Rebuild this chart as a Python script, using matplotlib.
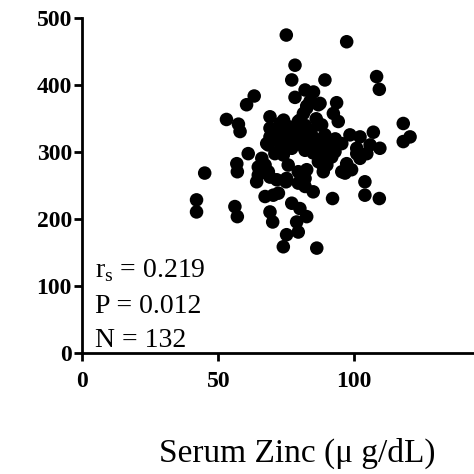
import matplotlib
matplotlib.use('Agg')
import matplotlib.pyplot as plt

# serum zinc (ug/dL) vs. y values
zinc = [42, 42, 45, 53, 57.4, 58, 56.8, 57, 56.1, 57,
        61, 63.2, 60.4, 69, 74, 75, 97.2, 78.2, 77, 89.2,
        108.2, 109.2, 78.2, 81.9, 85, 87.4, 82.5, 81.3, 80, 92.3,
        94.1, 86.8, 107, 64.7, 68.4, 64.1, 67.8, 69, 72.7, 70.8,
        73.9, 75.1, 69, 71.5, 98.4, 102.1, 109.4, 95.4, 92.9, 100.9,
        105.8, 97.2, 95.4, 99, 102.1, 104.6, 103.9, 88, 88.6, 75.1,
        80, 82.5, 118, 120.5, 118, 103.9, 109.2, 93.5, 67.2, 70.2,
        72.1, 69, 70, 74.9, 77, 80, 82.5, 78.8, 79.4, 75.1,
        73.9, 86.2, 92, 81.9, 84.9, 79.4, 69, 79.4, 82.5, 83.7,
        86.8, 68.4, 72.1, 75.7, 79.4, 83.1, 86.8, 89.2, 88, 80.7,
        77, 73.3, 81.9, 84.9, 66, 67.2, 75.7, 79.4, 81.9, 86.8,
        89.9, 91.7, 64.7, 100.9, 77, 83, 85, 78, 81, 84,
        76, 90, 91, 86, 82, 79, 74, 71, 88, 93,
        84, 96.6]
other = [229, 211, 269, 349, 342, 331, 283, 271, 219, 204,
         298, 384, 371, 353, 348, 475, 465, 430, 408, 408,
         413, 394, 382, 393, 390, 373, 369, 358, 348, 358,
         346, 341, 330, 278, 271, 256, 313, 323, 343, 298,
         296, 313, 263, 259, 326, 323, 306, 313, 301, 306,
         311, 283, 271, 274, 291, 298, 256, 283, 271, 261,
         256, 274, 343, 323, 316, 236, 231, 374, 234, 236,
         239, 211, 196, 256, 224, 216, 204, 196, 181, 177,
         159, 157, 231, 249, 241, 254, 336, 346, 366, 376,
         371, 311, 316, 316, 321, 316, 311, 326, 341, 336,
         306, 301, 303, 299, 291, 281, 281, 271, 261, 286,
         281, 293, 266, 298, 330, 328, 322, 312, 310, 333,
         338, 318, 308, 350, 340, 328, 325, 330, 296, 320,
         305, 269]

x_ticks = [0, 50, 100]
y_ticks = [0, 100, 200, 300, 400, 500]
stats_lines = [r'r$_{\mathrm{s}}$ = 0.219', 'P = 0.012', 'N = 132']

plt.rcParams['mathtext.fontset'] = 'custom'
plt.rcParams['mathtext.rm'] = 'Liberation Serif'

fig = plt.figure(figsize=(4.74, 4.74), dpi=100)
ax = fig.add_axes([82.3 / 474, (474 - 353.3) / 474, 1 - 82.3 / 474, (353.3 - 18.3) / 474])

ax.scatter(zinc, other, s=95, color='black', edgecolors='none', clip_on=False, zorder=3)

ax.set_xlim(0, (474 - 82.3) / 2.72)
ax.set_ylim(0, 500)
ax.set_xticks(x_ticks)
ax.set_yticks(y_ticks)

for side in ['top', 'right']:
    ax.spines[side].set_visible(False)
for side in ['left', 'bottom']:
    ax.spines[side].set_linewidth(2.0)

ax.tick_params(axis='both', direction='out', length=6, width=2.0, color='black')
ax.tick_params(axis='y', pad=1.5)
ax.tick_params(axis='x', pad=6.5)
for lab in ax.get_xticklabels() + ax.get_yticklabels():
    lab.set_family('Liberation Serif')
    lab.set_fontweight('bold')
    lab.set_fontsize(17)

# stats text in the lower left corner
baselines = [114, 60.5, 9]
for txt, yb in zip(stats_lines, baselines):
    ax.text(4.7, yb, txt, family='Liberation Serif', fontsize=20, va='baseline', ha='left')

fig.text(297 / 474, 12.3 / 474, 'Serum Zinc (μ g/dL)', family='Liberation Serif',
         fontsize=24, ha='center', va='baseline')

fig.savefig('out.png', dpi=100)
